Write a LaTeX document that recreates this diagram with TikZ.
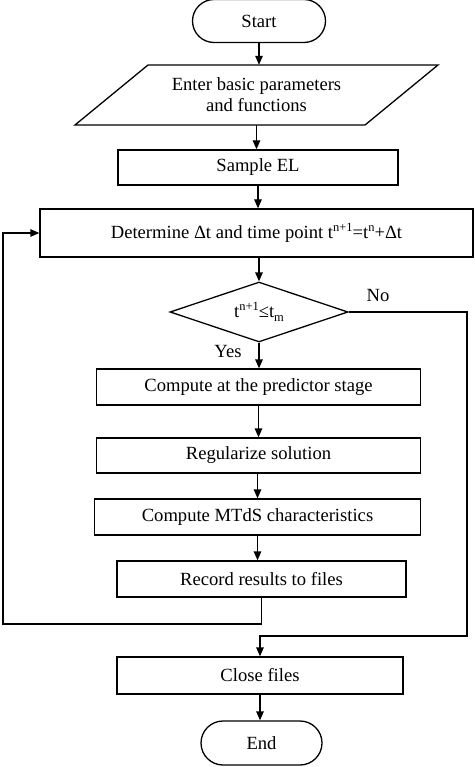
\documentclass[tikz,border=0pt]{standalone}
\usepackage{fontspec}
\setmainfont{Liberation Serif}
\usetikzlibrary{arrows.meta,shapes.misc,shapes.geometric}
\newcommand\mysup[1]{\raisebox{0.40em}{\fontsize{12.5}{12.5}\selectfont #1}}
\newcommand\mysub[1]{\raisebox{-0.22em}{\fontsize{12.5}{12.5}\selectfont #1}}
\begin{document}
\begin{tikzpicture}[x=1pt,y=-1pt,
  every node/.style={font=\fontsize{18.6}{21}\selectfont},
  box/.style={draw,line width=1.3pt,rectangle,inner sep=0pt},
  term/.style={draw,line width=1.3pt,rounded rectangle,inner sep=0pt},
  dec/.style={draw,line width=1.3pt,diamond,inner sep=0pt},
  lbl/.style={inner sep=0pt},
  flow/.style={line width=1.3pt,-{Triangle[length=9pt,width=7.5pt]}},
  plain/.style={line width=1.3pt}]
\useasboundingbox (0,0) rectangle (474,767);
\node[term,minimum width=133pt,minimum height=43pt] (start) at (259,21) {Start};
\node[lbl,minimum height=60pt,minimum width=220pt,align=center] (para) at (256.5,95) {Enter basic parameters\\and functions};
\draw[plain] (148,65) -- (438,65) -- (365,125) -- (75,125) -- cycle;
\node[box,minimum width=280pt,minimum height=35pt] (sample) at (258,167.5) {Sample EL};
\node[box,minimum width=433pt,minimum height=48pt] (det) at (256.5,233) {Determine Δt and time point t\mysup{n+1}=t\mysup{n}+Δt};
\node[dec,minimum width=178pt,minimum height=60pt,aspect=2.97] (dia) at (259,312) {t\mysup{n+1}≤t\mysub{m}};
\node[box,minimum width=324pt,minimum height=36pt] (comp) at (258.5,387) {Compute at the predictor stage};
\node[box,minimum width=324pt,minimum height=35pt] (reg) at (258.5,455.5) {Regularize solution};
\node[box,minimum width=326pt,minimum height=36pt] (mtds) at (257.5,517) {Compute MTdS characteristics};
\node[box,minimum width=289pt,minimum height=36pt] (rec) at (261.5,579) {Record results to files};
\node[box,minimum width=286pt,minimum height=37pt] (close) at (260,675.5) {Close files};
\node[term,minimum width=121pt,minimum height=44pt] (end) at (261.5,743) {End};
\node[lbl] (no) at (378,295) {No};
\node[lbl] (yes) at (228,351) {Yes};
\coordinate (lb) at (3,624);
\coordinate (nr) at (467,636);
\draw[flow] (start.south) -- (start.south |- para.north);
\draw[flow] (para.south) -- (para.south |- sample.north);
\draw[flow] (sample.south) -- (sample.south |- det.north);
\draw[flow] (dia.north |- det.south) -- (dia.north);
\draw[flow] (dia.south) -- (dia.south |- comp.north);
\draw[flow] (reg.north |- comp.south) -- (reg.north);
\draw[flow] (mtds.north |- reg.south) -- (mtds.north);
\draw[flow] (mtds.south) -- (mtds.south |- rec.north);
\draw[flow] (rec.south) |- (lb) |- (det.west);
\draw[flow] (dia.east) -| (nr) -| (close.north);
\draw[flow] (close.south) -- (close.south |- end.north);
\end{tikzpicture}
\end{document}
